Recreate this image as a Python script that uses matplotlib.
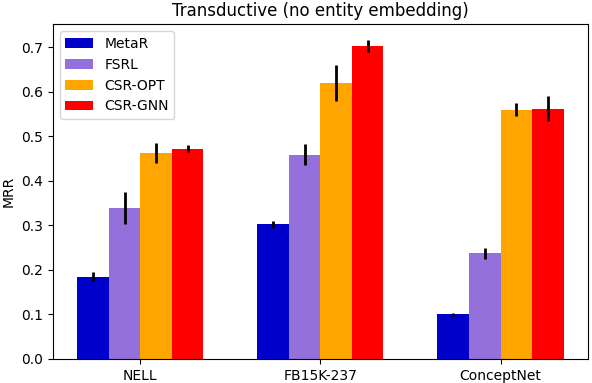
import numpy as np
import matplotlib.pyplot as plt

datasets = ['NELL', 'FB15K-237', 'ConceptNet']
methods = ['MetaR', 'FSRL', 'CSR-OPT', 'CSR-GNN']
colors = ['mediumblue', 'mediumpurple', 'orange', 'red']

# MRR values per method (NELL, FB15K-237, ConceptNet)
metar = [0.185, 0.302, 0.100]
fsrl = [0.340, 0.459, 0.237]
csr_opt = [0.463, 0.620, 0.560]
csr_gnn = [0.472, 0.703, 0.562]

metar_err = [0.011, 0.007, 0.003]
fsrl_err = [0.036, 0.024, 0.013]
csr_opt_err = [0.023, 0.040, 0.015]
csr_gnn_err = [0.008, 0.013, 0.028]

vals = [metar, fsrl, csr_opt, csr_gnn]
errs = [metar_err, fsrl_err, csr_opt_err, csr_gnn_err]

fig = plt.figure(figsize=(5.92, 3.83), dpi=100)
ax = fig.add_axes([0.0895, 0.0627, 0.9035, 0.8743])

x = np.arange(len(datasets))
w = 0.175
for i in range(4):
    ax.bar(x + (i - 1.5) * w, vals[i], w, yerr=errs[i], color=colors[i],
           label=methods[i], error_kw=dict(elinewidth=2, ecolor='black'))

ax.set_xticks(x)
ax.set_xticklabels(datasets)
ax.set_ylabel('MRR')
ax.set_title('Transductive (no entity embedding)', fontsize=12)
ax.legend(loc='upper left')

plt.savefig('out.png', dpi=100)
